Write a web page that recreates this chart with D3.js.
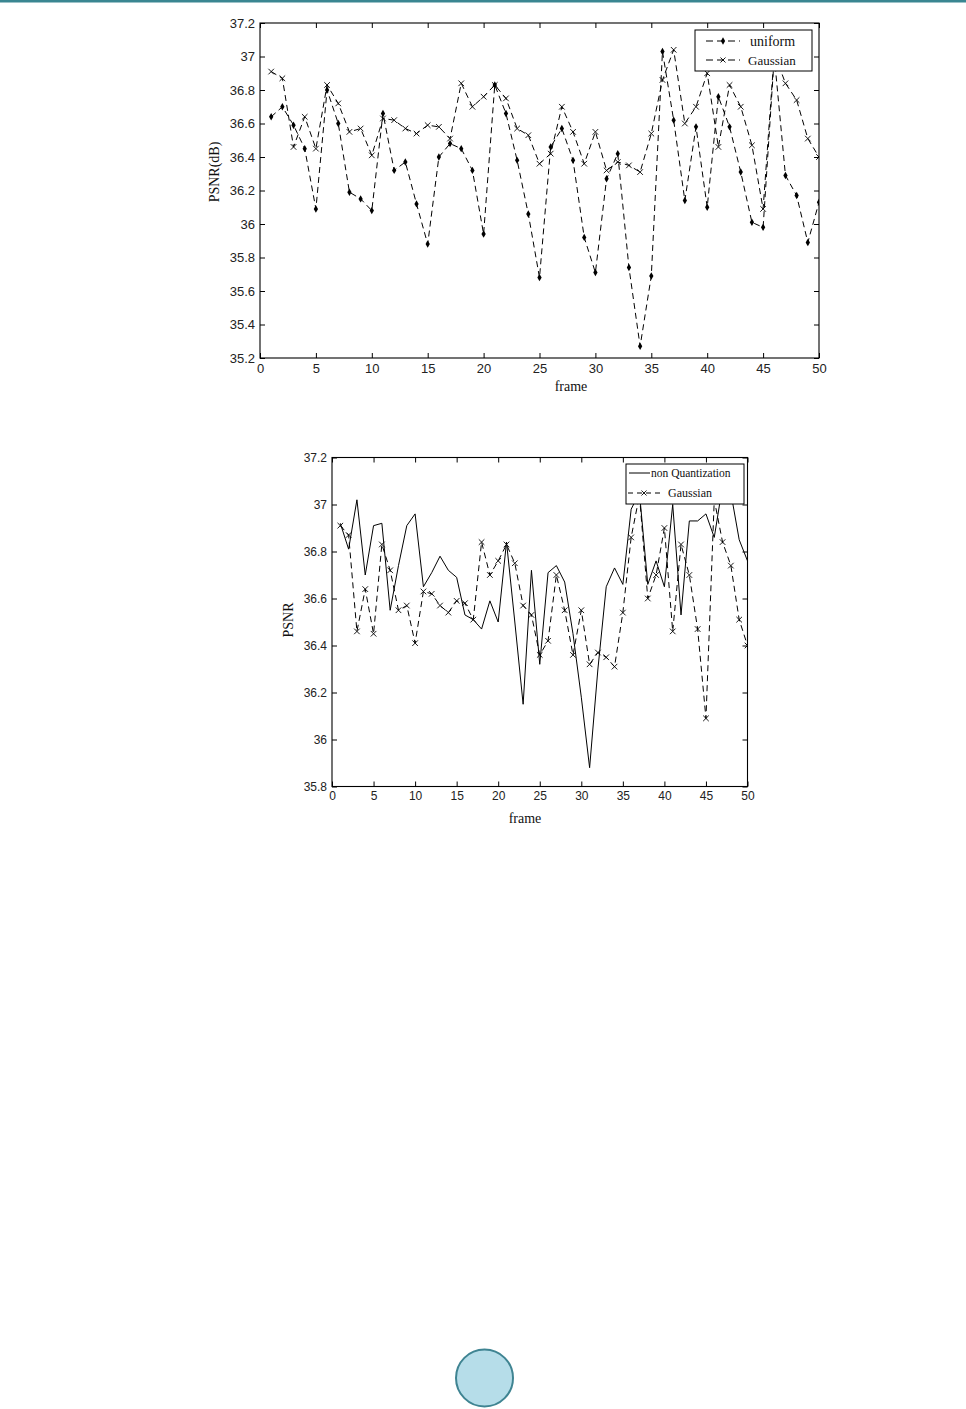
<!DOCTYPE html>
<html>
<head>
<meta charset="utf-8">
<script src="https://cdn.jsdelivr.net/npm/d3@7"></script>
<style>
  html, body { margin: 0; padding: 0; background: #fff; }
  svg { display: block; }
</style>
</head>
<body>
<svg id="chart" width="966" height="1409"></svg>
<script>
// ---------- DATA ----------
const frames = d3.range(1, 51);
const uniform = [36.64,36.70,36.59,36.45,36.09,36.80,36.60,36.19,36.15,36.08,
                 36.66,36.32,36.37,36.12,35.88,36.40,36.48,36.45,36.32,35.94,
                 36.83,36.66,36.38,36.06,35.68,36.46,36.57,36.38,35.92,35.71,
                 36.27,36.42,35.74,35.27,35.69,37.03,36.62,36.14,36.58,36.10,
                 36.76,36.58,36.31,36.01,35.98,37.00,36.29,36.17,35.89,36.13];
const gaussian = [36.91,36.87,36.46,36.64,36.45,36.83,36.72,36.55,36.57,36.41,
                  36.63,36.62,36.57,36.54,36.59,36.58,36.51,36.84,36.70,36.76,
                  36.83,36.75,36.57,36.53,36.36,36.42,36.70,36.55,36.36,36.55,
                  36.32,36.37,36.35,36.31,36.54,36.86,37.04,36.60,36.70,36.90,
                  36.46,36.83,36.70,36.47,36.09,37.02,36.84,36.74,36.51,36.40];
const nonQuant = [36.92,36.81,37.02,36.70,36.91,36.92,36.55,36.74,36.91,36.96,
                  36.65,36.71,36.78,36.72,36.69,36.53,36.51,36.47,36.59,36.50,
                  36.84,36.50,36.15,36.72,36.32,36.71,36.74,36.67,36.45,36.18,
                  35.88,36.30,36.65,36.73,36.66,36.98,37.05,36.66,36.76,36.65,
                  37.00,36.53,36.93,36.93,36.96,36.86,37.08,37.05,36.85,36.76];
const xTicks = [0,5,10,15,20,25,30,35,40,45,50];
const yTicksTop = [35.2,35.4,35.6,35.8,36,36.2,36.4,36.6,36.8,37,37.2];
const yTicksBottom = [35.8,36,36.2,36.4,36.6,36.8,37,37.2];

// ---------- SETUP ----------
const svg = d3.select("#chart");
const tickFont = "'Liberation Sans', Arial, sans-serif";
const serif = "'Liberation Serif', 'Times New Roman', serif";

// header bar
svg.append("rect").attr("x", 0).attr("y", 0).attr("width", 966).attr("height", 2.5)
   .attr("fill", "#3a8691");

// page number circle
svg.append("circle").attr("cx", 484.5).attr("cy", 1378).attr("r", 28.5)
   .attr("fill", "#b6dde9").attr("stroke", "#3f8492").attr("stroke-width", 2);

function crossPath(s) {
  return `M${-s},${-s}L${s},${s}M${-s},${s}L${s},${-s}`;
}
const diamond = d3.symbol().type(d3.symbolDiamond).size(16);

function drawPanel(cfg) {
  const x = d3.scaleLinear().domain([0, 50]).range([cfg.left, cfg.right]);
  const y = d3.scaleLinear().domain(cfg.yDomain).range([cfg.bottom, cfg.top]);
  const g = svg.append("g");
  const clipId = "clip" + cfg.id;
  g.append("clipPath").attr("id", clipId).append("rect")
    .attr("x", cfg.left).attr("y", cfg.top)
    .attr("width", cfg.right - cfg.left).attr("height", cfg.bottom - cfg.top);

  const fs = cfg.tickSize;
  // axes with inward ticks
  const axB = g.append("g").attr("transform", `translate(0,${cfg.bottom})`)
    .call(d3.axisBottom(x).tickValues(xTicks).tickSizeInner(-5).tickSizeOuter(0).tickPadding(cfg.xPad).tickFormat(d3.format("d")));
  const axT = g.append("g").attr("transform", `translate(0,${cfg.top})`)
    .call(d3.axisTop(x).tickValues(xTicks).tickSizeInner(-5).tickSizeOuter(0).tickFormat(""));
  const axL = g.append("g").attr("transform", `translate(${cfg.left},0)`)
    .call(d3.axisLeft(y).tickValues(cfg.yTicks).tickSizeInner(-5).tickSizeOuter(0).tickPadding(cfg.yPad).tickFormat(d => String(+d.toFixed(1))));
  const axR = g.append("g").attr("transform", `translate(${cfg.right},0)`)
    .call(d3.axisRight(y).tickValues(cfg.yTicks).tickSizeInner(-5).tickSizeOuter(0).tickFormat(""));
  [axB, axT, axL, axR].forEach(a => {
    a.select(".domain").remove();
    a.selectAll("line").attr("stroke", "#000").attr("stroke-width", 1);
    a.selectAll("text").attr("font-family", tickFont).attr("font-size", fs).attr("fill", "#222");
  });

  // box
  g.append("rect").attr("x", cfg.left).attr("y", cfg.top)
    .attr("width", cfg.right - cfg.left).attr("height", cfg.bottom - cfg.top)
    .attr("fill", "none").attr("stroke", "#000").attr("stroke-width", 1.1);

  const plot = g.append("g").attr("clip-path", `url(#${clipId})`);
  cfg.series.forEach(s => {
    const line = d3.line().x((d, i) => x(frames[i])).y(d => y(d));
    plot.append("path").datum(s.values).attr("d", line)
      .attr("fill", "none").attr("stroke", "#000").attr("stroke-width", 1)
      .attr("stroke-dasharray", s.dash || null);
    if (s.marker === "diamond") {
      plot.selectAll(null).data(s.values).enter().append("path")
        .attr("d", diamond).attr("fill", "#000")
        .attr("transform", (d, i) => `translate(${x(frames[i])},${y(d)})`);
    } else if (s.marker === "x") {
      plot.selectAll(null).data(s.values).enter().append("path")
        .attr("d", crossPath(2.8)).attr("stroke", "#000").attr("stroke-width", 0.9).attr("fill", "none")
        .attr("transform", (d, i) => `translate(${x(frames[i])},${y(d)})`);
    }
  });

  // axis labels
  g.append("text").attr("x", cfg.xLabel[0]).attr("y", cfg.xLabel[1])
    .attr("text-anchor", "middle").attr("font-family", serif).attr("font-size", 14)
    .attr("fill", "#111").text("frame");
  g.append("text").attr("transform", `translate(${cfg.yLabel[0]},${cfg.yLabel[1]}) rotate(-90)`)
    .attr("text-anchor", "middle").attr("font-family", serif).attr("font-size", 14)
    .attr("fill", "#111").text(cfg.yLabelText);

  // legend
  const L = cfg.legend;
  const lg = g.append("g");
  lg.append("rect").attr("x", L.x).attr("y", L.y).attr("width", L.w).attr("height", L.h)
    .attr("fill", "#fff").attr("stroke", "#000").attr("stroke-width", 1);
  L.items.forEach(it => {
    lg.append("line").attr("x1", it.x1).attr("x2", it.x2).attr("y1", it.y).attr("y2", it.y)
      .attr("stroke", "#000").attr("stroke-width", 1).attr("stroke-dasharray", it.dash || null);
    if (it.marker === "diamond") {
      lg.append("path").attr("d", diamond).attr("fill", "#000")
        .attr("transform", `translate(${(it.x1 + it.x2) / 2},${it.y})`);
    } else if (it.marker === "x") {
      lg.append("path").attr("d", crossPath(2.5)).attr("stroke", "#000").attr("fill", "none")
        .attr("stroke-width", 0.9)
        .attr("transform", `translate(${(it.x1 + it.x2) / 2},${it.y})`);
    }
    lg.append("text").attr("x", it.tx).attr("y", it.y + it.fs * 0.35)
      .attr("font-family", serif).attr("font-size", it.fs).attr("fill", "#111").text(it.label);
  });
}

// Top panel: uniform vs Gaussian
drawPanel({
  id: "top", left: 260, right: 819, top: 23, bottom: 358,
  yDomain: [35.2, 37.2], yTicks: yTicksTop, tickSize: 13, xPad: 6, yPad: 5,
  series: [
    { values: uniform, dash: "6,4", marker: "diamond" },
    { values: gaussian, dash: "6,4", marker: "x" }
  ],
  xLabel: [571, 391], yLabel: [219, 172], yLabelText: "PSNR(dB)",
  legend: { x: 695, y: 30, w: 117, h: 41, items: [
    { x1: 706, x2: 740, y: 41, dash: "7,4", marker: "diamond", tx: 750, label: "uniform", fs: 14 },
    { x1: 706, x2: 740, y: 60, dash: "7,4", marker: "x", tx: 748, label: "Gaussian", fs: 13 }
  ]}
});

// Bottom panel: non Quantization vs Gaussian
drawPanel({
  id: "bottom", left: 332, right: 747.5, top: 457.5, bottom: 786.5,
  yDomain: [35.8, 37.2], yTicks: yTicksBottom, tickSize: 12, xPad: 5, yPad: 5,
  series: [
    { values: nonQuant, dash: null, marker: null },
    { values: gaussian, dash: "6,4", marker: "x" }
  ],
  xLabel: [525, 823], yLabel: [293, 620], yLabelText: "PSNR",
  legend: { x: 626, y: 464, w: 118, h: 40, items: [
    { x1: 629, x2: 650, y: 473, dash: null, marker: null, tx: 651, label: "non Quantization", fs: 11.5 },
    { x1: 628, x2: 660, y: 493, dash: "5,4", marker: "x", tx: 668, label: "Gaussian", fs: 12 }
  ]}
});
</script>
</body>
</html>
